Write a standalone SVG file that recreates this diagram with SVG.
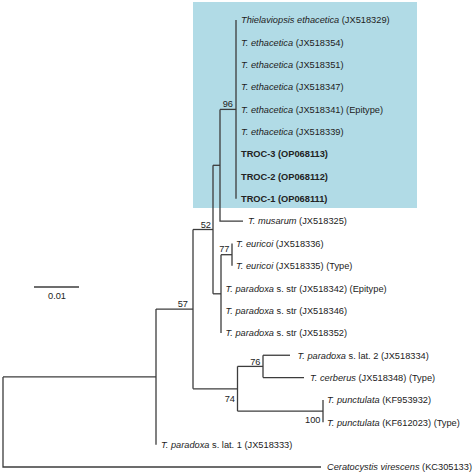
<svg xmlns="http://www.w3.org/2000/svg" width="474" height="474" viewBox="0 0 474 474">
<style>
text{font-family:"Liberation Sans",Arial,sans-serif;font-size:9.25px;fill:#222}
.i{font-style:italic}
.b{font-weight:bold}
.bs{text-anchor:end}
.sc{text-anchor:middle}
#connectors path,#scale line{fill:none;stroke:#3c3c3c;stroke-width:1.3}
</style>
<rect id="highlight" x="193" y="2" width="224" height="206" fill="#b1dbe6"/>
<g id="connectors">
<!-- clade 96 -->
<path d="M236,20V198.8"/>
<path d="M220,109.4H236"/>
<path d="M220,109.4V221.15H243"/>
<path d="M213,165.3H220"/>
<!-- node 52 -->
<path d="M213,165.3V293.8"/>
<path d="M193,229.5H213"/>
<path d="M213,293.8H221"/>
<!-- s. str -->
<path d="M221,254.7V332.9"/>
<path d="M221,254.7H232"/>
<path d="M232,243.5V265.85"/>
<!-- node 57 -->
<path d="M193,229.5V388.8"/>
<path d="M156,309.1H193"/>
<path d="M193,388.8H237.5"/>
<!-- node 74 -->
<path d="M237.5,366.4V411.1"/>
<path d="M237.5,366.4H263"/>
<path d="M263,355.25V377.6"/>
<path d="M263,355.25H290"/>
<path d="M263,377.6H304"/>
<path d="M237.5,411.1H323"/>
<path d="M323,399.95V422.3"/>
<!-- lower -->
<path d="M156,309.1V444.65"/>
<path d="M3,376.9H156"/>
<path d="M3,376.9V467H321"/>
</g>
<g id="scale">
<line x1="34" y1="287" x2="79" y2="287"/>
<text class="sc" x="57" y="299">0.01</text>
</g>
<g id="support">
<text class="bs" x="233" y="106.9">96</text>
<text class="bs" x="211" y="227.5">52</text>
<text class="bs" x="188" y="307.2">57</text>
<text class="bs" x="229.5" y="252.4">77</text>
<text class="bs" x="260.5" y="364.8">76</text>
<text class="bs" x="235" y="401.8">74</text>
<text class="bs" x="320.5" y="422.8">100</text>
</g>
<g id="t1"><text x="241" y="23.3"><tspan class="i">Thielaviopsis ethacetica</tspan> (JX518329)</text></g>
<g id="t2"><text x="241" y="45.65"><tspan class="i">T. ethacetica</tspan> (JX518354)</text></g>
<g id="t3"><text x="241" y="68"><tspan class="i">T. ethacetica</tspan> (JX518351)</text></g>
<g id="t4"><text x="241" y="90.35"><tspan class="i">T. ethacetica</tspan> (JX518347)</text></g>
<g id="t5"><text x="241" y="112.7"><tspan class="i">T. ethacetica</tspan> (JX518341) (Epitype)</text></g>
<g id="t6"><text x="241" y="135.05"><tspan class="i">T. ethacetica</tspan> (JX518339)</text></g>
<g id="t7"><text class="b" x="241" y="157.4">TROC-3 (OP068113)</text></g>
<g id="t8"><text class="b" x="241" y="179.75">TROC-2 (OP068112)</text></g>
<g id="t9"><text class="b" x="241" y="202.1">TROC-1 (OP068111)</text></g>
<g id="t10"><text x="248" y="224.45"><tspan class="i">T. musarum</tspan> (JX518325)</text></g>
<g id="t11"><text x="236" y="246.8"><tspan class="i">T. euricoi</tspan> (JX518336)</text></g>
<g id="t12"><text x="236" y="269.15"><tspan class="i">T. euricoi</tspan> (JX518335) (Type)</text></g>
<g id="t13"><text x="225.5" y="291.5"><tspan class="i">T. paradoxa</tspan> s. str (JX518342) (Epitype)</text></g>
<g id="t14"><text x="225.5" y="313.85"><tspan class="i">T. paradoxa</tspan> s. str (JX518346)</text></g>
<g id="t15"><text x="225.5" y="336.2"><tspan class="i">T. paradoxa</tspan> s. str (JX518352)</text></g>
<g id="t16"><text x="297.5" y="358.55"><tspan class="i">T. paradoxa</tspan> s. lat. 2 (JX518334)</text></g>
<g id="t17"><text x="310" y="380.9"><tspan class="i">T. cerberus</tspan> (JX518348) (Type)</text></g>
<g id="t18"><text x="327" y="403.25"><tspan class="i">T. punctulata</tspan> (KF953932)</text></g>
<g id="t19"><text x="327" y="425.6"><tspan class="i">T. punctulata</tspan> (KF612023) (Type)</text></g>
<g id="t20"><text x="161" y="447.95"><tspan class="i">T. paradoxa</tspan> s. lat. 1 (JX518333)</text></g>
<g id="t21"><text x="327" y="470.3"><tspan class="i">Ceratocystis virescens</tspan> (KC305133)</text></g>
</svg>
